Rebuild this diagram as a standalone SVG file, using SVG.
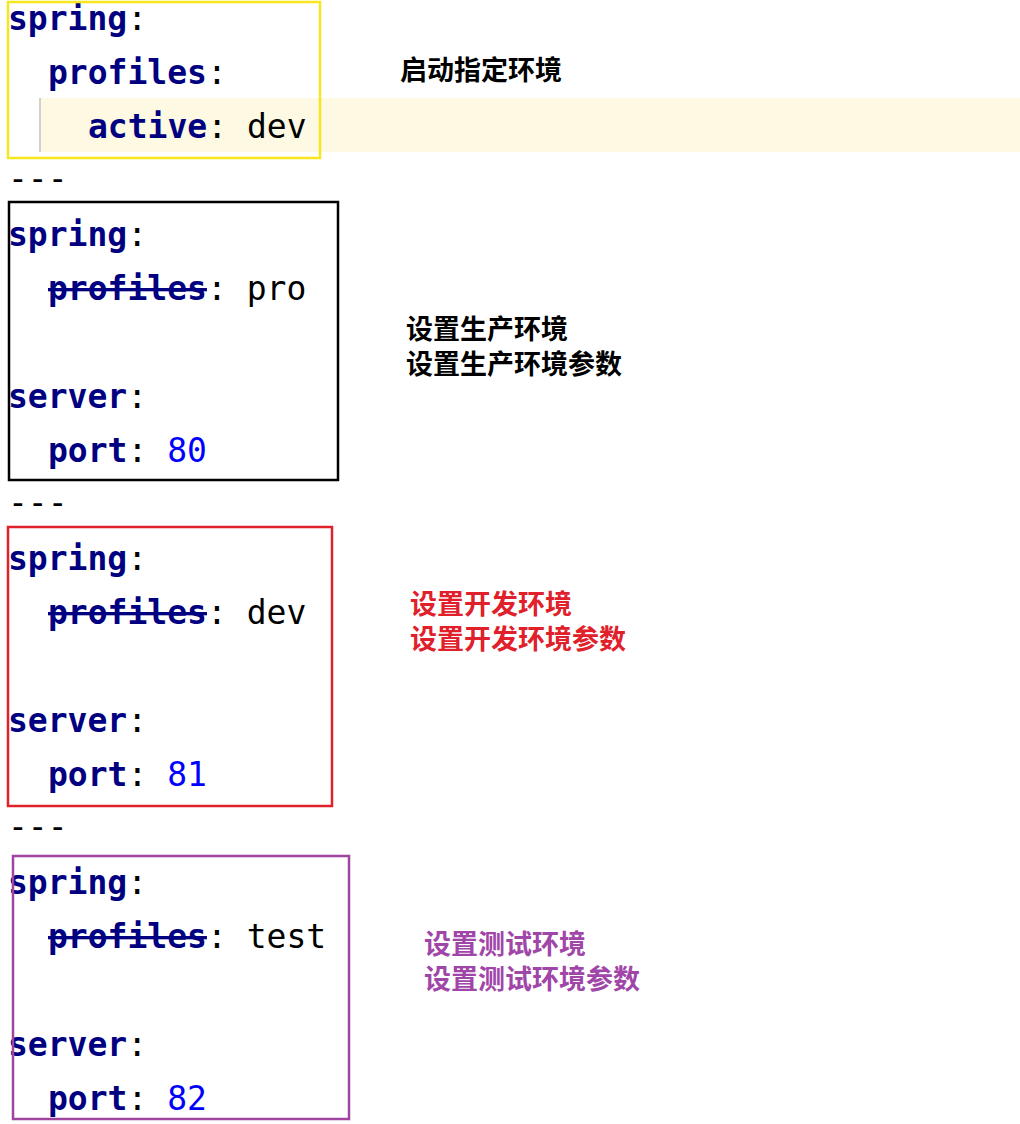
<svg xmlns="http://www.w3.org/2000/svg" width="1020" height="1124" viewBox="0 0 1020 1124">
<style>
.c{font-family:"DejaVu Sans Mono","Liberation Mono",monospace;font-size:33px;white-space:pre}
.k{fill:#000080;font-weight:bold}
.v{fill:#000}
.n{fill:#0000ff}
.s{text-decoration:line-through}
.l{font-family:"Noto Sans CJK SC",sans-serif;font-size:27px;font-weight:bold}
.b{fill:none;stroke-width:2.5}
</style>
<rect x="0" y="0" width="1020" height="1124" fill="#fff"/>
<rect x="40" y="98" width="980" height="54" fill="#fdf9e3"/>
<line x1="40" y1="98" x2="40" y2="152" stroke="#d0d0d0" stroke-width="2"/>
<g id="code">
<text class="c" x="8" y="30"><tspan class="k">spring</tspan><tspan class="v">:</tspan></text>
<text class="c" x="48" y="84"><tspan class="k">profiles</tspan><tspan class="v">:</tspan></text>
<text class="c" x="88" y="138"><tspan class="k">active</tspan><tspan class="v">: dev</tspan></text>
<text class="c v" x="8" y="190">---</text>
<text class="c" x="8" y="246"><tspan class="k">spring</tspan><tspan class="v">:</tspan></text>
<text class="c" x="48" y="300"><tspan class="k s">profiles</tspan><tspan class="v">: pro</tspan></text>
<text class="c" x="8" y="408"><tspan class="k">server</tspan><tspan class="v">:</tspan></text>
<text class="c" x="48" y="462"><tspan class="k">port</tspan><tspan class="v">: </tspan><tspan class="n">80</tspan></text>
<text class="c v" x="8" y="514">---</text>
<text class="c" x="8" y="570"><tspan class="k">spring</tspan><tspan class="v">:</tspan></text>
<text class="c" x="48" y="624"><tspan class="k s">profiles</tspan><tspan class="v">: dev</tspan></text>
<text class="c" x="8" y="732"><tspan class="k">server</tspan><tspan class="v">:</tspan></text>
<text class="c" x="48" y="786"><tspan class="k">port</tspan><tspan class="v">: </tspan><tspan class="n">81</tspan></text>
<text class="c v" x="8" y="838">---</text>
<text class="c" x="8" y="894"><tspan class="k">spring</tspan><tspan class="v">:</tspan></text>
<text class="c" x="48" y="948"><tspan class="k s">profiles</tspan><tspan class="v">: test</tspan></text>
<text class="c" x="8" y="1056"><tspan class="k">server</tspan><tspan class="v">:</tspan></text>
<text class="c" x="48" y="1110"><tspan class="k">port</tspan><tspan class="v">: </tspan><tspan class="n">82</tspan></text>
</g>
<g id="boxes">
<rect class="b" x="8" y="2" width="312" height="156" stroke="#f5e61e"/>
<rect class="b" x="9" y="202" width="329" height="278" stroke="#000"/>
<rect class="b" x="8" y="527" width="324" height="279" stroke="#e0202a"/>
<rect class="b" x="13" y="856" width="336" height="263" stroke="#a046a0"/>
</g>
<g id="labels">
<text class="l" x="400" y="80" fill="#000">启动指定环境</text>
<text class="l" x="406" y="339" fill="#000">设置生产环境</text>
<text class="l" x="406" y="374" fill="#000">设置生产环境参数</text>
<text class="l" x="410" y="614" fill="#e0202a">设置开发环境</text>
<text class="l" x="410" y="649" fill="#e0202a">设置开发环境参数</text>
<text class="l" x="424" y="954" fill="#a046a8">设置测试环境</text>
<text class="l" x="424" y="989" fill="#a046a8">设置测试环境参数</text>
</g>
</svg>
